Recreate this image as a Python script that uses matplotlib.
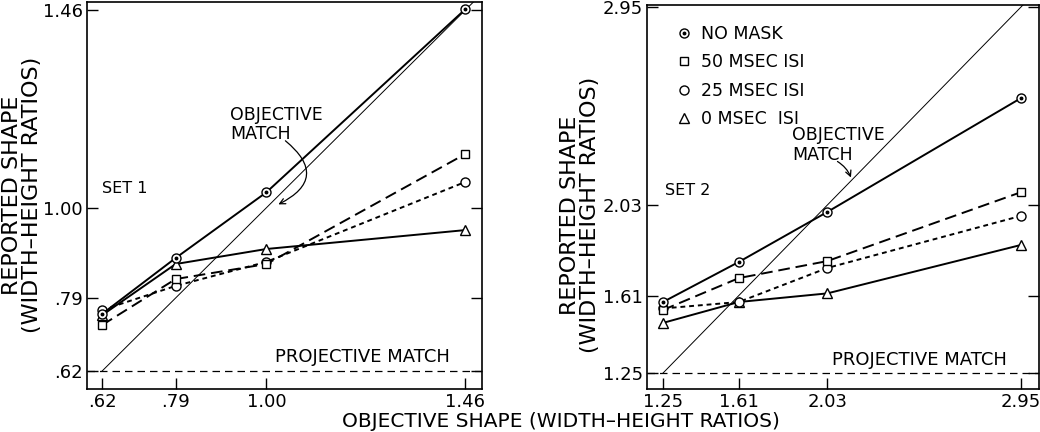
import matplotlib
matplotlib.use("Agg")
import matplotlib.pyplot as plt
from matplotlib.lines import Line2D

plt.rcParams['font.family'] = ['DejaVu Sans']

# Set 1
x1 = [0.62, 0.79, 1.00, 1.46]
set1_nomask = [0.753, 0.883, 1.036, 1.462]
set1_isi50 = [0.727, 0.834, 0.869, 1.125]
set1_isi25 = [0.762, 0.818, 0.874, 1.060]
set1_isi0 = [0.750, 0.869, 0.904, 0.948]
ticks1 = ['.62', '.79', '1.00', '1.46']

# Set 2
x2 = [1.25, 1.61, 2.03, 2.95]
set2_nomask = [1.580, 1.766, 1.998, 2.527]
set2_isi50 = [1.543, 1.691, 1.770, 2.090]
set2_isi25 = [1.550, 1.580, 1.738, 1.980]
set2_isi0 = [1.483, 1.580, 1.620, 1.845]
ticks2 = ['1.25', '1.61', '2.03', '2.95']

legend_labels = ['NO MASK', '50 MSEC ISI', '25 MSEC ISI', '0 MSEC  ISI']

fig = plt.figure(figsize=(10.4, 4.32), dpi=100)
ax1 = fig.add_axes([0.0837, 0.0995, 0.3798, 0.8958])
ax2 = fig.add_axes([0.6221, 0.0995, 0.3769, 0.8889])

LW = 1.4
MS = 6.5


def draw_set(ax, x, nomask, isi50, isi25, isi0, ticks):
    lo, hi = x[0], x[-1]
    # objective match (identity) and projective match
    ax.plot([lo, hi * 1.1], [lo, hi * 1.1], color='black', lw=0.7, zorder=1)
    ax.axhline(lo, color='black', lw=0.9, dashes=(6, 4), zorder=1)

    ax.plot(x, isi0, color='black', lw=LW, marker='^', ms=MS + 0.5,
            mfc='white', mec='black', mew=1.0, zorder=3)
    ax.plot(x, isi25, color='black', lw=LW, dashes=(2.5, 2), marker='o',
            ms=MS, mfc='white', mec='black', mew=1.0, zorder=3)
    ax.plot(x, isi50, color='black', lw=LW, dashes=(6, 3), marker='s',
            ms=MS - 0.5, mfc='white', mec='black', mew=1.0, zorder=3)
    ax.plot(x, nomask, color='black', lw=LW, marker='o', ms=MS,
            mfc='white', mec='black', mew=1.0, zorder=4)
    ax.plot(x, nomask, linestyle='none', marker='o', ms=1.8,
            color='black', zorder=5)

    ax.set_xticks(x)
    ax.set_xticklabels(ticks)
    ax.set_yticks(x)
    ax.set_yticklabels(ticks)
    ax.tick_params(direction='in', length=8, width=1.0, labelsize=13,
                   right=True, pad=3)
    for s in ax.spines.values():
        s.set_linewidth(1.2)


draw_set(ax1, x1, set1_nomask, set1_isi50, set1_isi25, set1_isi0, ticks1)
ax1.set_xlim(0.585, 1.499)
ax1.set_ylim(0.578, 1.479)

draw_set(ax2, x2, set2_nomask, set2_isi50, set2_isi25, set2_isi0, ticks2)
ax2.set_xlim(1.174, 3.035)
ax2.set_ylim(1.176, 2.959)

# texts on set 1
ax1.text(0.62, 1.046, 'SET 1', fontsize=11.5, va='center', ha='left')
ax1.text(1.02, 0.652, 'PROJECTIVE MATCH', fontsize=13, va='center', ha='left')
ax1.text(0.916, 1.238, 'OBJECTIVE\nMATCH', fontsize=12.5, va='top',
         ha='left', linespacing=1.1)
ax1.annotate('', xy=(1.022, 1.005), xytext=(1.039, 1.160),
             arrowprops=dict(arrowstyle='->', lw=0.9, color='black',
                             connectionstyle='arc3,rad=-0.8'))

# texts on set 2
ax2.text(1.26, 2.10, 'SET 2', fontsize=11.5, va='center', ha='left')
ax2.text(2.052, 1.31, 'PROJECTIVE MATCH', fontsize=13, va='center', ha='left')
ax2.text(1.8625, 2.395, 'OBJECTIVE\nMATCH', fontsize=12.5, va='top',
         ha='left', linespacing=1.1)
ax2.annotate('', xy=(2.147, 2.146), xytext=(2.067, 2.239),
             arrowprops=dict(arrowstyle='->', lw=0.9, color='black',
                             connectionstyle='arc3,rad=-0.2'))

# legend with markers only
h_nomask = (Line2D([], [], ls='none', marker='o', ms=MS, mfc='white',
                   mec='black', mew=1.0),
            Line2D([], [], ls='none', marker='o', ms=1.8, color='black'))
h_50 = Line2D([], [], ls='none', marker='s', ms=MS - 0.5, mfc='white',
              mec='black', mew=1.0)
h_25 = Line2D([], [], ls='none', marker='o', ms=MS, mfc='white',
              mec='black', mew=1.0)
h_0 = Line2D([], [], ls='none', marker='^', ms=MS + 0.5, mfc='white',
             mec='black', mew=1.0)
ax2.legend([h_nomask, h_50, h_25, h_0], legend_labels, loc='upper left',
           bbox_to_anchor=(0.05, 0.975), frameon=False, fontsize=12.5,
           handlelength=0.8, handletextpad=0.6, labelspacing=0.6,
           borderaxespad=0.2)

# axis labels
ylab = 'REPORTED SHAPE\n(WIDTH\u2013HEIGHT RATIOS)'
fig.text(22 / 1040, 1 - 195 / 432, ylab, rotation=90, ha='center',
         va='center', fontsize=16, multialignment='center', linespacing=1.0)
fig.text(580 / 1040, 1 - 215 / 432, ylab, rotation=90, ha='center',
         va='center', fontsize=16, multialignment='center', linespacing=1.0)
fig.text(561 / 1040, 1 - 427 / 432,
         'OBJECTIVE SHAPE (WIDTH\u2013HEIGHT RATIOS)', ha='center',
         va='baseline', fontsize=14.5)

fig.savefig('out.png', dpi=100)
